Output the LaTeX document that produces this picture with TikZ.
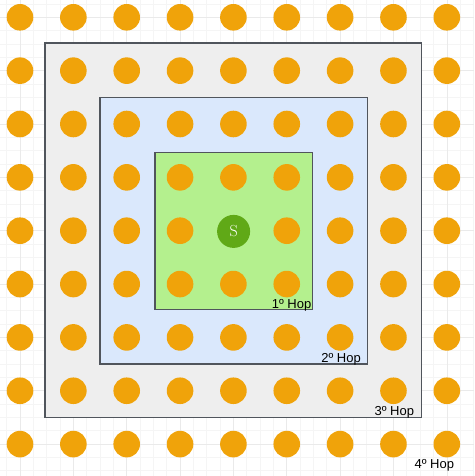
\documentclass[tikz,border=0pt]{standalone}
\usepackage{fontspec}
\usepackage{tikz}
\newfontfamily\hopfont{Liberation Sans}
\definecolor{dotorange}{HTML}{F0A30A}
\definecolor{srcgreen}{HTML}{60A917}
\definecolor{hopone}{HTML}{B4F08E}
\definecolor{hoptwo}{HTML}{DAE8FC}
\definecolor{hopthree}{HTML}{EEEEEE}
\definecolor{boxline}{HTML}{50555C}
\definecolor{gridminor}{HTML}{F5F5F5}
\definecolor{gridmajor}{HTML}{EAEAEA}
\newcommand{\dsep}{53.35}
\newcommand{\minsep}{13.3375}
\tikzset{
  dot/.style = {circle, fill=dotorange, minimum size=26.6pt, inner sep=0pt},
  src/.style = {circle, fill=srcgreen, minimum size=33pt, inner sep=0pt,
                text=white, font=\fontsize{16}{16}\selectfont},
  hopbox/.style = {draw=boxline, line width=1.2pt},
  hoplabel/.style = {anchor=base east, inner sep=0pt,
                     font=\hopfont\fontsize{13}{13}\selectfont}
}

\begin{document}
\begin{tikzpicture}[x=1pt,y=-1pt]
        \useasboundingbox (0,0) rectangle (474,476);
        % background grid
        \foreach \k in {-1,...,34}{
            \draw[gridminor, line width=0.6pt] (20+\minsep*\k,0) -- (20+\minsep*\k,476);
            \draw[gridminor, line width=0.6pt] (0,17.3+\minsep*\k) -- (474,17.3+\minsep*\k);
        }
        \foreach \k in {0,...,8}{
            \draw[gridmajor, line width=0.6pt] (20+\dsep*\k,0) -- (20+\dsep*\k,476);
            \draw[gridmajor, line width=0.6pt] (0,17.3+\dsep*\k) -- (474,17.3+\dsep*\k);
        }

        % hop areas
        \draw[hopbox, fill=hopthree] (45,43) rectangle (421.3,417.7);
        \draw[hopbox, fill=hoptwo] (100,97.7) rectangle (367.7,364);
        \draw[hopbox, fill=hopone] (155,152.7) rectangle (312.3,309.7);

        % nodes
        \foreach \i in {0,...,8}{
            \foreach \j in {0,...,8}{
                \pgfmathtruncatemacro\c{\i*9+\j}
                \ifnum\c=40 \else
                    \node[dot] (d-\i-\j) at (20+\dsep*\i,17.3+\dsep*\j) {};
                \fi
            }
        }
        \node[src] (s) at (233.6,231.4) {S};

        \node[hoplabel] (hop1) at (311.5,308.7) {1º Hop};
        \node[hoplabel] (hop2) at (361,362) {2º Hop};
        \node[hoplabel] (hop3) at (414.3,415.3) {3º Hop};
        \node[hoplabel] (hop4) at (454.3,468.7) {4º Hop};
    \end{tikzpicture}
\end{document}
